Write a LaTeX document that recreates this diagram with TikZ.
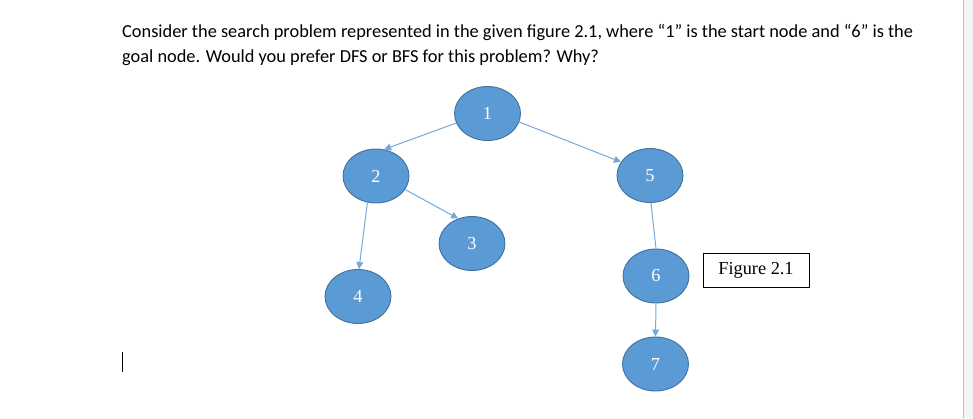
\documentclass[tikz,border=0pt]{standalone}
\usepackage{fontspec}
\setmainfont{Liberation Serif}
\newfontfamily\calibri{Carlito}
\usetikzlibrary{shapes.geometric,arrows.meta}
\definecolor{nodefill}{HTML}{5B9BD5}
\definecolor{nodeline}{HTML}{41719C}
\definecolor{edgecol}{HTML}{74AADB}
\tikzset{
  gnode/.style={ellipse, fill=nodefill, draw=nodeline, line width=0.9pt,
    minimum width=66pt, minimum height=54pt, inner sep=0pt,
    text=white, font=\fontsize{18.3}{20}\selectfont},
  gedge/.style={draw=edgecol, line width=1pt, -{Triangle[length=7pt,width=7pt]}},
  pedge/.style={draw=edgecol, line width=1pt},
  capbox/.style={draw=black, line width=0.8pt, minimum width=106pt, minimum height=34pt,
    inner sep=0pt, font=\fontsize{18.3}{20}\selectfont},
  para/.style={anchor=base west, inner sep=0pt, font=\calibri\fontsize{18.35}{20}\selectfont}
}
\begin{document}
\begin{tikzpicture}[x=1pt,y=-1pt]
\useasboundingbox (0,0) rectangle (973,418);
\fill[white] (0,0) rectangle (973,418);
\fill[black!4] (963.5,0) rectangle (973,418);
\draw[black!25, line width=1pt] (963.5,0) -- (963.5,418);
% text
\node[para] (l1) at (122,37) {Consider the search problem represented in the given figure 2.1, where “1” is the start node and “6” is the};
\node[para] (l2) at (122,62.5) {goal node. Would you prefer DFS or BFS for this problem? Why?};
\coordinate (ctop) at (122,352);
\coordinate (cbot) at (122,372);
\draw[black, line width=1pt] (ctop) -- (cbot);
% nodes
\node[gnode] (n1) at (487.5,113.5) {1};
\node[gnode] (n2) at (376,176) {2};
\node[gnode] (n3) at (472,243.5) {3};
\node[gnode] (n4) at (358,296.5) {4};
\node[gnode] (n5) at (650,175.5) {5};
\node[gnode] (n6) at (656,276) {6};
\node[gnode] (n7) at (655.5,364) {7};
\node[capbox] (fig) at (756,270) {Figure 2.1};
% edges
\draw[gedge] (n1.197) -- (n2.73);
\draw[gedge] (n2.-25) -- (n3.119);
\draw[gedge] (n2.252) -- (n4.88);
\draw[gedge] (n1.-15) -- (n5.155);
\draw[pedge] (n5.272) -- (n6.90);
\draw[gedge] (n6.270) -- (n7.90);
\end{tikzpicture}
\end{document}
